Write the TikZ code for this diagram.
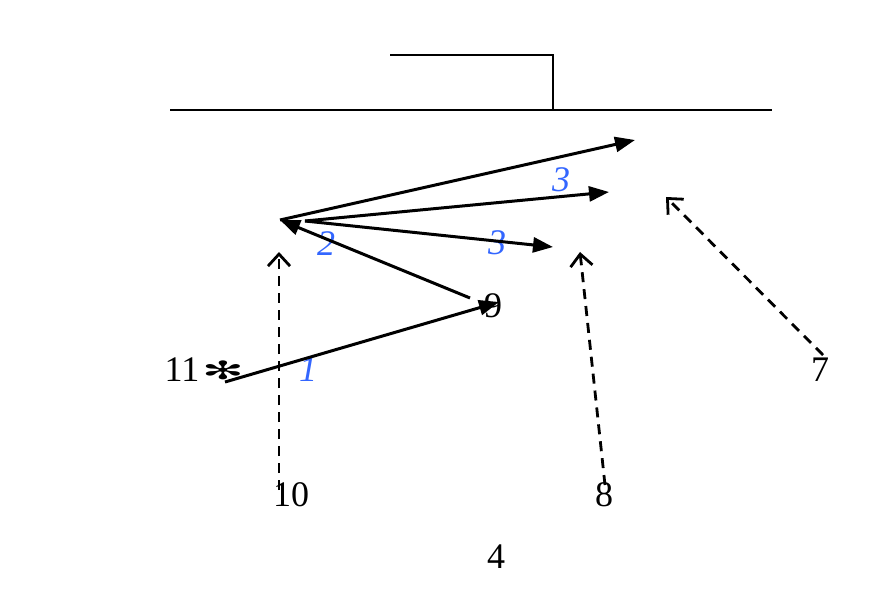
\documentclass[tikz,border=0pt]{standalone}
\usepackage{fontspec}
\setmainfont{Liberation Serif}
\newfontfamily\symfont{DejaVu Sans}
\usetikzlibrary{arrows.meta}
\definecolor{numblue}{RGB}{51,102,255}
\tikzset{
  solidarr/.style={line width=1.5pt,-{Triangle[length=10pt,width=7.5pt]}},
  dasharr/.style={line width=1.4pt,dash pattern=on 5pt off 3.5pt,-{Straight Barb[length=6pt,width=11pt]}},
  lbl/.style={inner sep=0pt,font=\fontsize{18}{21}\selectfont},
  num/.style={lbl,text=numblue,font=\fontsize{18}{21}\selectfont\itshape}
}
\begin{document}
\begin{tikzpicture}[x=0.5pt,y=-0.5pt]
  \useasboundingbox (0,0) rectangle (893,598);
  % surface and step
  \draw[line width=1pt] (170,110) -- (772,110);
  \draw[line width=1pt] (390,55) -- (553,55) -- (553,110);
  % labels
  \node[lbl] (n11) at (182,370) {11};
  \node[lbl,xscale=1.4,yscale=0.7] (star) at (223,370) {\symfont ✻};
  \node[lbl] (n9) at (493,306) {9};
  \node[lbl] (n7) at (820,370) {7};
  \node[lbl] (n10) at (291,495) {10};
  \node[lbl] (n8) at (604,495) {8};
  \node[lbl] (n4) at (496,557) {4};
  \node[num] (l1) at (308,370) {1};
  \node[num] (l2) at (326,244) {2};
  \node[num] (l3a) at (561,180) {3};
  \node[num] (l3b) at (497,243) {3};
  % end points
  \coordinate (src) at (225,382);
  \coordinate (hit) at (499,302);
  \coordinate (back) at (470,298);
  \coordinate (apex) at (280,220);
  \coordinate (fan) at (305,221);
  \coordinate (r1) at (635,140);
  \coordinate (r2) at (609,192);
  \coordinate (r3) at (553,247);
  \coordinate (s10) at (279,490);
  \coordinate (d10) at (279,252);
  \coordinate (s8) at (605,485);
  \coordinate (d8) at (580,252);
  \coordinate (s7) at (823,355);
  \coordinate (d7) at (666,197);
  % solid rays
  \draw[solidarr] (src) -- (hit);
  \draw[solidarr] (back) -- (apex);
  \draw[solidarr] (apex) -- (r1);
  \draw[solidarr] (fan) -- (r2);
  \draw[solidarr] (fan) -- (r3);
  % dashed rays
  \draw[dasharr] (s10) -- (d10);
  \draw[dasharr] (s8) -- (d8);
  \draw[dasharr] (s7) -- (d7);
\end{tikzpicture}
\end{document}
